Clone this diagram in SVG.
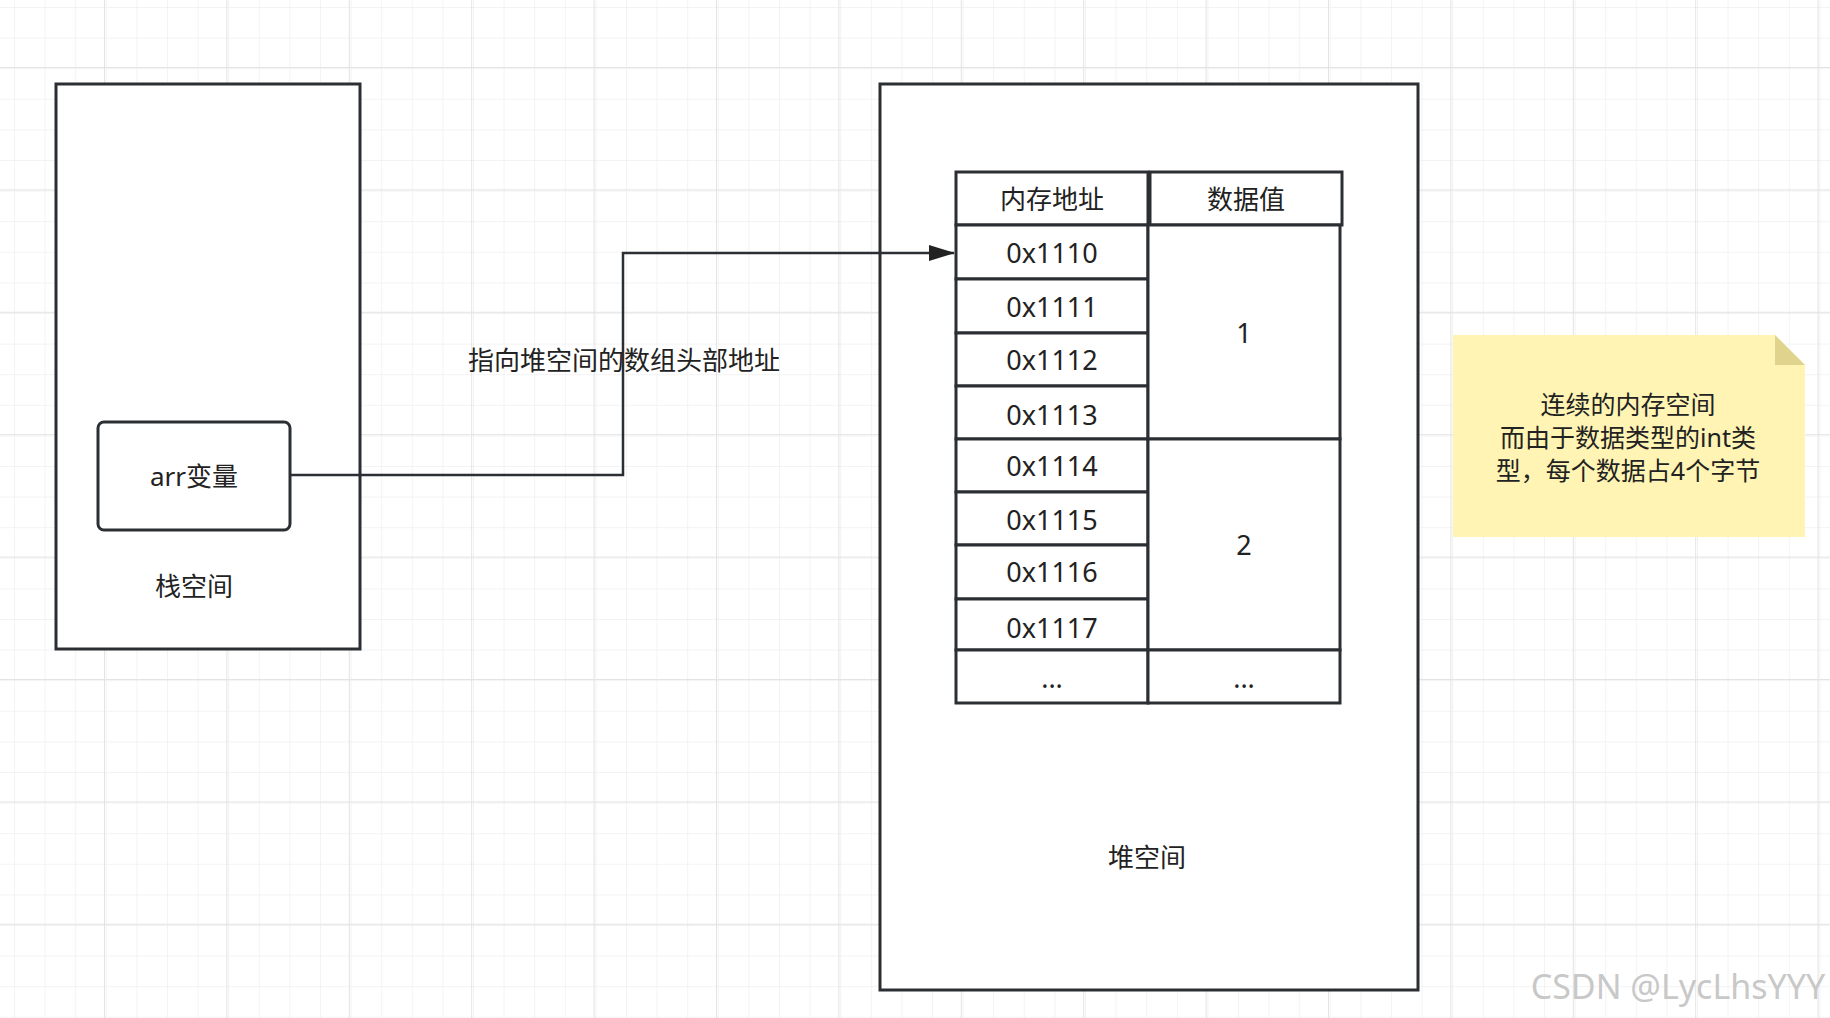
<svg xmlns="http://www.w3.org/2000/svg" width="1830" height="1018" viewBox="0 0 1830 1018">
<defs>
<pattern id="minor" width="30.6" height="30.6" patternUnits="userSpaceOnUse" x="14" y="7"><path d="M0 0V30.6M0 0H30.6" stroke="#efefef" stroke-width="1.5" fill="none"/></pattern>
<pattern id="major" width="122.4" height="122.4" patternUnits="userSpaceOnUse" x="104" y="67"><path d="M0 0V122.4M0 0H122.4" stroke="#e3e3e3" stroke-width="2" fill="none"/></pattern>
<marker id="arr" markerWidth="26" markerHeight="16" refX="25" refY="8" orient="auto" markerUnits="userSpaceOnUse"><path d="M0 0L26 8L0 16Z" fill="#222"/></marker>
</defs>
<style>
.b{fill:#fff;stroke:#2b2f33;stroke-width:3}
.t{font-family:"Noto Sans","Noto Sans CJK SC",sans-serif;font-size:27px;fill:#222;text-anchor:middle;dominant-baseline:central}
.s{font-size:26px}
.n{font-size:25px}
</style>
<rect width="1830" height="1018" fill="#fff"/>
<rect width="1830" height="1018" fill="url(#minor)"/>
<rect width="1830" height="1018" fill="url(#major)"/>
<g id="stack"><rect class="b" x="56" y="84" width="304" height="565"/><text class="t s" x="194" y="586">栈空间</text></g>
<g id="heap"><rect class="b" x="880" y="84" width="538" height="906"/><text class="t s" x="1147" y="857">堆空间</text></g>
<g id="arrvar"><rect class="b" x="98" y="422" width="192" height="108" rx="6"/><text class="t s" x="194" y="476">arr变量</text></g>
<g id="table">
<rect class="b" x="956" y="172" width="192" height="53"/><text class="t s" x="1052" y="199">内存地址</text>
<rect class="b" x="1150" y="172" width="192" height="53"/><text class="t s" x="1246" y="199">数据值</text>
<rect class="b" x="956" y="225" width="192" height="54"/><text class="t" x="1052" y="252">0x1110</text>
<rect class="b" x="956" y="279" width="192" height="54"/><text class="t" x="1052" y="306">0x1111</text>
<rect class="b" x="956" y="333" width="192" height="53"/><text class="t" x="1052" y="359">0x1112</text>
<rect class="b" x="956" y="386" width="192" height="53"/><text class="t" x="1052" y="414">0x1113</text>
<rect class="b" x="956" y="439" width="192" height="53"/><text class="t" x="1052" y="465">0x1114</text>
<rect class="b" x="956" y="492" width="192" height="53"/><text class="t" x="1052" y="519">0x1115</text>
<rect class="b" x="956" y="545" width="192" height="54"/><text class="t" x="1052" y="571">0x1116</text>
<rect class="b" x="956" y="599" width="192" height="51"/><text class="t" x="1052" y="627">0x1117</text>
<rect class="b" x="956" y="650" width="192" height="53"/><text class="t" x="1052" y="677">...</text>
<rect class="b" x="1148" y="225" width="192" height="214"/><text class="t" x="1244" y="332">1</text>
<rect class="b" x="1148" y="439" width="192" height="211"/><text class="t" x="1244" y="544">2</text>
<rect class="b" x="1148" y="650" width="192" height="53"/><text class="t" x="1244" y="677">...</text>
</g>
<g id="connectors"><path d="M290 475H623V253H954" fill="none" stroke="#2b2f33" stroke-width="2.5" marker-end="url(#arr)"/></g>
<g id="label"><text class="t s" x="624" y="360">指向堆空间的数组头部地址</text></g>
<g id="note"><path d="M1453 335H1775L1805 365V537H1453Z" fill="#fff4b3"/><path d="M1775 335V365H1805Z" fill="#e0d38e"/>
<text class="t n" x="1628" y="404">连续的内存空间</text><text class="t n" x="1628" y="437">而由于数据类型的int类</text><text class="t n" x="1628" y="470">型，每个数据占4个字节</text></g>
<text x="1678" y="986" style="font-family:'Noto Sans',sans-serif;font-size:34px;fill:#c8c8c8;text-anchor:middle;dominant-baseline:central">CSDN @LycLhsYYY</text>
</svg>
